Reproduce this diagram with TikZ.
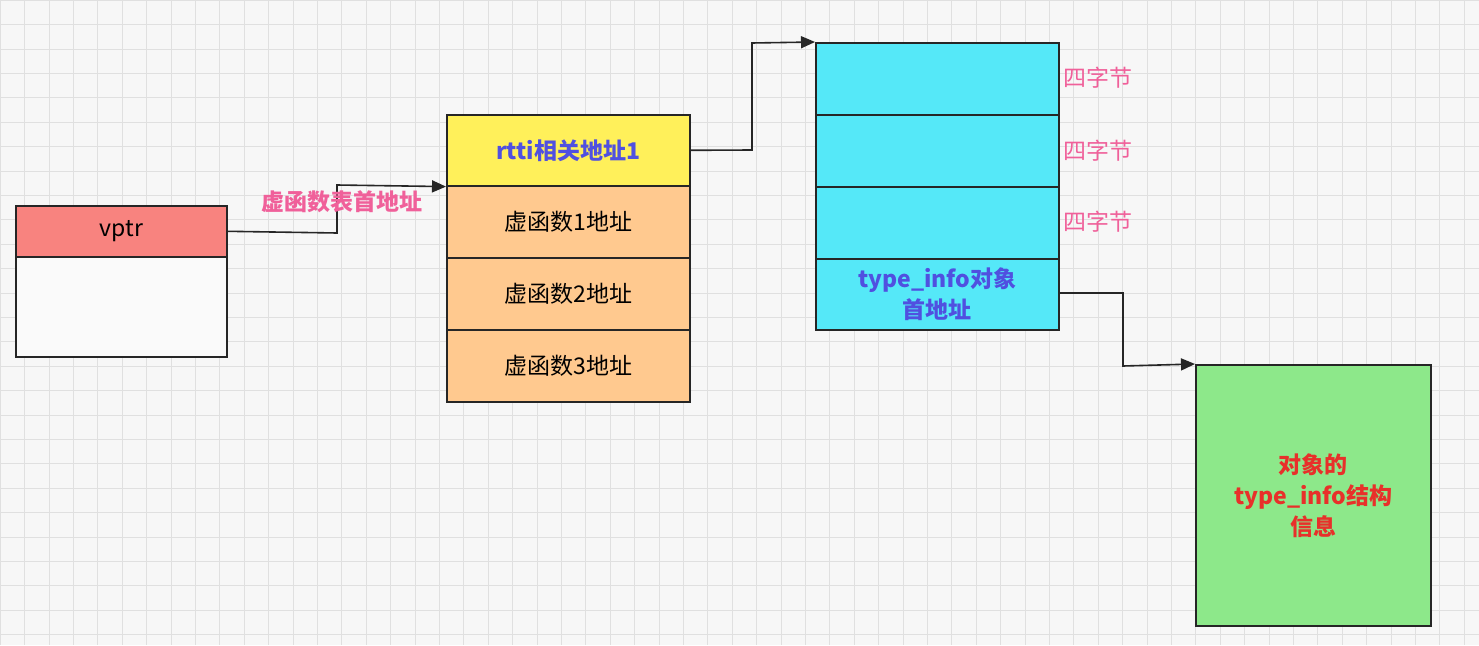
\documentclass[tikz,border=0pt]{standalone}
\usepackage{fontspec}
\setmainfont{Noto Sans CJK SC}
\usetikzlibrary{arrows.meta}
\definecolor{salmon}{HTML}{F8837F}
\definecolor{ylw}{HTML}{FFF05A}
\definecolor{org}{HTML}{FFC98F}
\definecolor{cyn}{HTML}{55E8F8}
\definecolor{grn}{HTML}{8DE88A}
\definecolor{pnk}{HTML}{F0609A}
\definecolor{blu}{HTML}{5050E0}
\definecolor{rd}{HTML}{E8302A}
\tikzset{
 cell/.style={draw=black!85,line width=1.6pt,anchor=north west,inner sep=0pt,font=\fontsize{23}{28}\selectfont},
 conn/.style={draw=black!85,line width=1.6pt,-{Triangle[length=14pt,width=12pt]}},
 side/.style={text=pnk,font=\fontsize{23}{28}\selectfont}
}
\begin{document}
\begin{tikzpicture}[x=1pt,y=-1pt]
\fill[white!97!black] (0,0) rectangle (1479,645);
\useasboundingbox (0,0) rectangle (1479,645);
\draw[black!12,line width=0.6pt,xstep=24.4,ystep=-24.4] (0,0) grid (1479,645);
% vptr
\node[cell,fill=salmon,minimum width=211pt,minimum height=51pt] (vp) at (15,205) {vptr};
\node[cell,fill=white!98!black,minimum width=211pt,minimum height=100pt] (vpb) at (15,256) {};
% table
\node[cell,fill=ylw,minimum width=243pt,minimum height=71pt,text=blu,font=\fontsize{23}{28}\selectfont\bfseries] (rt) at (446,114) {rtti相关地址1};
\node[cell,fill=org,minimum width=243pt,minimum height=72pt] (f1) at (446,185) {虚函数1地址};
\node[cell,fill=org,minimum width=243pt,minimum height=72pt] (f2) at (446,257) {虚函数2地址};
\node[cell,fill=org,minimum width=243pt,minimum height=72pt] (f3) at (446,329) {虚函数3地址};
% right block
\node[cell,fill=cyn,minimum width=243pt,minimum height=72pt] (c1) at (815,42) {};
\node[cell,fill=cyn,minimum width=243pt,minimum height=72pt] (c2) at (815,114) {};
\node[cell,fill=cyn,minimum width=243pt,minimum height=72pt] (c3) at (815,186) {};
\node[cell,fill=cyn,minimum width=243pt,minimum height=71pt,text=blu,align=center,font=\fontsize{23}{31}\selectfont\bfseries] (c4) at (815,258) {type\_info对象\\首地址};
\node[side] (s1) at (1098,78) {四字节};
\node[side] (s2) at (1098,151) {四字节};
\node[side] (s3) at (1098,222) {四字节};
% green
\node[cell,fill=grn,minimum width=235pt,minimum height=261pt,text=rd,align=center,font=\fontsize{23}{31}\selectfont\bfseries] (g) at (1195,364) {对象的\\type\_info结构\\信息};
% arrows
\coordinate (a1) at (337,233);
\coordinate (a2) at (337,185);
\draw[conn] (vp.east) -- (a1) -- (a2) -- (rt.south west);
\node[text=pnk,font=\fontsize{23}{28}\selectfont\bfseries] (lb) at (342,202) {虚函数表首地址};
\coordinate (b1) at (752,150);
\coordinate (b2) at (752,43);
\draw[conn] (rt.east) -- (b1) -- (b2) -- (c1.north west);
\coordinate (d0) at (1058,293);
\coordinate (d1) at (1123,293);
\coordinate (d2) at (1123,366);
\draw[conn] (d0) -- (d1) -- (d2) -- (g.north west);
\end{tikzpicture}
\end{document}
